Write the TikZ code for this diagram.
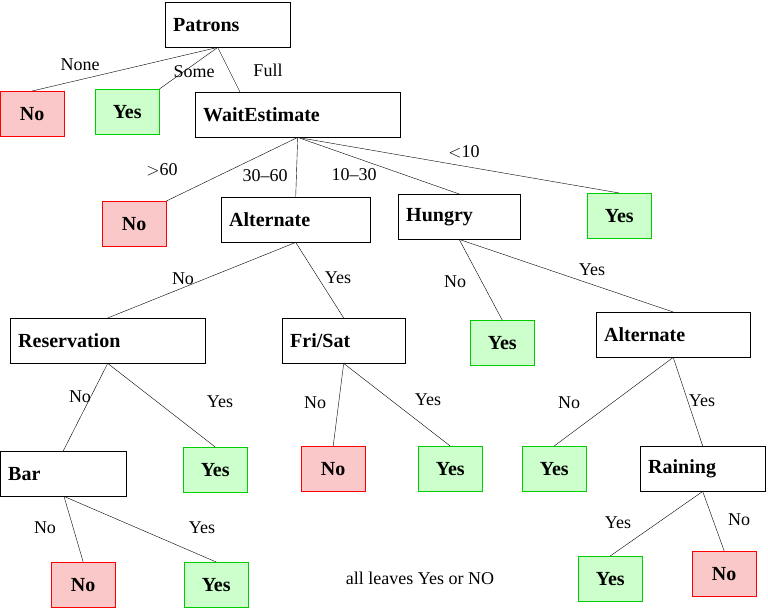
\documentclass[tikz,border=0pt]{standalone}
\usepackage{fontspec}
\setmainfont{Liberation Serif}
\definecolor{nofill}{RGB}{250,200,200}
\definecolor{yesfill}{RGB}{204,255,204}
\begin{document}
\begin{tikzpicture}[x=1pt,y=-1pt]
    \tikzset{
        box/.style={draw, minimum height=45pt, font=\fontsize{20}{22}\selectfont\bfseries},
        attr/.style={box, anchor=north west, text width=#1, inner xsep=8pt, align=left},
        nobox/.style={box, fill=nofill, draw=red, minimum width=64pt, anchor=north west},
        yesbox/.style={box, fill=yesfill, draw=green!80!black, minimum width=64pt, anchor=north west},
        lbl/.style={font=\fontsize{18}{20}\selectfont}
    }
    \useasboundingbox (0,0) rectangle (768,608);

    % attribute nodes
    \node[attr=109pt] (patrons) at (165,2) {Patrons};
    \node[attr=189pt] (wait) at (195,92) {WaitEstimate};
    \node[attr=133pt] (alt) at (221,197) {Alternate};
    \node[attr=106pt] (hungry) at (398,194) {Hungry};
    \node[attr=179pt] (res) at (10,318) {Reservation};
    \node[attr=107pt] (frisat) at (282,318) {Fri/Sat};
    \node[attr=138pt] (alttwo) at (596,312) {Alternate};
    \node[attr=110pt] (bar) at (0,451) {Bar};
    \node[attr=109pt] (rain) at (640,446) {Raining};

    % leaves
    \node[nobox] (pno) at (0,91) {No};
    \node[yesbox] (pyes) at (95,89) {Yes};
    \node[nobox] (wno) at (102,201) {No};
    \node[yesbox] (wyes) at (587,193) {Yes};
    \node[yesbox] (hyes) at (470,320) {Yes};
    \node[yesbox] (ryes) at (183,447) {Yes};
    \node[nobox] (fno) at (301,446) {No};
    \node[yesbox] (fyes) at (418,446) {Yes};
    \node[yesbox] (ayes) at (522,446) {Yes};
    \node[nobox] (bno) at (51,562) {No};
    \node[yesbox] (byes) at (184,562) {Yes};
    \node[yesbox] (rnyes) at (578,556) {Yes};
    \node[nobox] (rnno) at (692,551) {No};

    % branches
    \coordinate (ptop) at ([xshift=-10pt]patrons.south);
    \draw (ptop) -- (pno.north);
    \draw (ptop) -- (pyes.north east);
    \draw (ptop) -- ([xshift=45pt]wait.north west);
    \draw (wait.south) -- (wno.north east);
    \draw (wait.south) -- (alt.north);
    \draw (wait.south) -- (hungry.north);
    \draw (wait.south) -- (wyes.north);
    \draw (alt.south) -- (res.north);
    \draw (alt.south) -- (frisat.north);
    \draw (hungry.south) -- (hyes.north);
    \draw (hungry.south) -- (alttwo.north);
    \draw (res.south) -- (bar.north);
    \draw (res.south) -- (ryes.north);
    \draw (frisat.south) -- (fno.north);
    \draw (frisat.south) -- (fyes.north);
    \draw (alttwo.south) -- (ayes.north);
    \draw (alttwo.south) -- (rain.north);
    \draw (bar.south west) ++(64,0) -- (bno.north);
    \draw (bar.south west) ++(64,0) -- (byes.north);
    \draw (rain.south) -- (rnyes.north);
    \draw (rain.south) -- (rnno.north);
    \foreach \x/\y/\t in {80/65/None, 194/72/Some, 268/70/Full,
                          162/170/{$>$60}, 265/176/30--60, 354/175/10--30, 464/152/{$<$10},
                          183/279/No, 338/278/Yes, 455/282/No, 592/270/Yes,
                          80/397/No, 220/402/Yes, 315/403/No, 428/400/Yes,
                          569/403/No, 702/401/Yes, 45/528/No, 202/528/Yes,
                          618/523/Yes, 739/520/No}
        \node[lbl] at (\x,\y) {\t};

    \node[lbl] (note) at (420,578) {all leaves Yes or NO};
\end{tikzpicture}
\end{document}
